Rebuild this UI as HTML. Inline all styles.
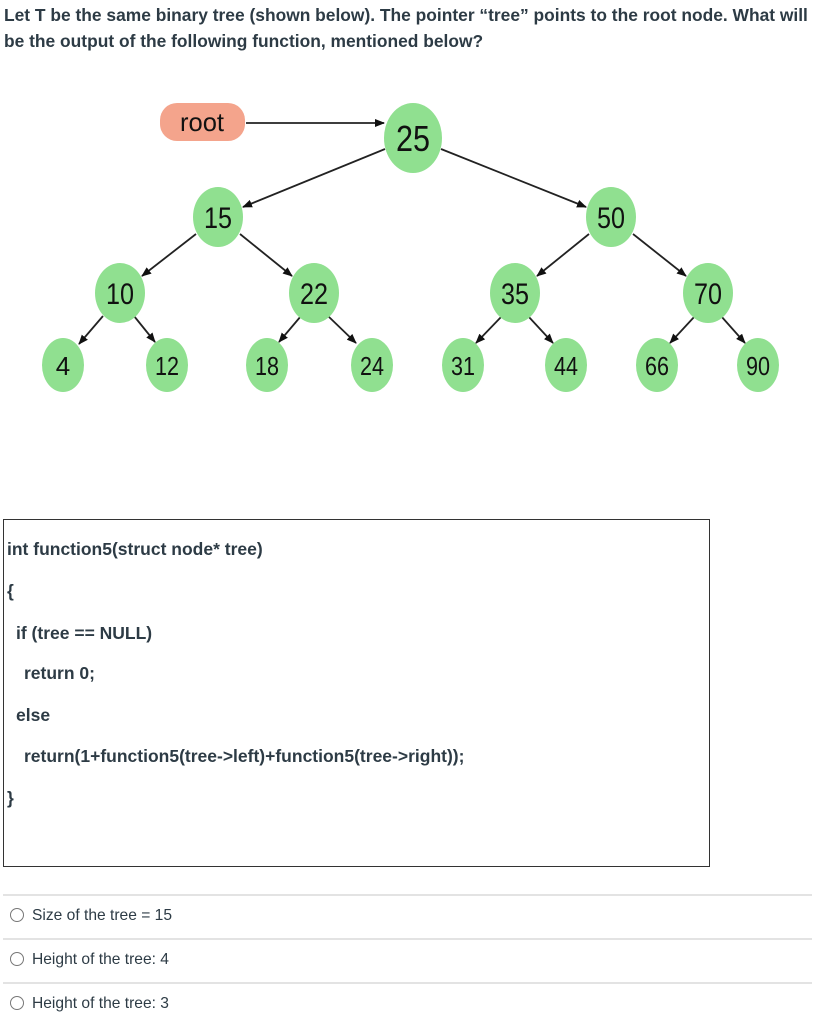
<!DOCTYPE html>
<html><head><meta charset="utf-8"><style>
body{margin:0;width:815px;height:1024px;background:#fff;position:relative;font-family:"Liberation Sans",sans-serif;color:#2d3b45;overflow:hidden}
.t{position:absolute;left:4px;font-weight:bold;font-size:17.4px;color:#2d3b45;white-space:nowrap}
.box{position:absolute;left:3px;top:519px;width:705px;height:346px;border:1px solid #333}
.c{position:absolute;font-weight:bold;font-size:17.5px;color:#2d3b45;white-space:nowrap}
.hr{position:absolute;left:3px;width:809px;height:0;border-top:2px solid #e3e3e3}
.o{position:absolute;left:10px;font-size:15.6px;color:#2d3b45}
.o span{display:inline-block;width:12px;height:12px;border:1px solid #777;border-radius:50%;vertical-align:-2px;margin-right:8px}
</style></head><body>
<div class="t" style="top:5px">Let T be the same binary tree (shown below). The pointer “tree” points to the root node. What will</div>
<div class="t" style="top:31px">be the output of the following function, mentioned below?</div>
<svg style="position:absolute;left:0;top:0" width="815" height="420">
<defs><marker id="a" markerWidth="10" markerHeight="8" refX="9" refY="4" orient="auto" markerUnits="userSpaceOnUse"><path d="M0,0 L10,4 L0,8 z" fill="#111"/></marker></defs>
<g stroke="#222" stroke-width="1.8" marker-end="url(#a)">
<line x1="246" y1="123" x2="384" y2="123"/>
<line x1="385" y1="149" x2="243" y2="207"/>
<line x1="441" y1="149" x2="586" y2="207"/>
<line x1="196" y1="234" x2="142" y2="276"/>
<line x1="240" y1="234" x2="292" y2="276"/>
<line x1="589" y1="234" x2="537" y2="276"/>
<line x1="633" y1="234" x2="686" y2="276"/>
<line x1="103" y1="316" x2="79" y2="344"/>
<line x1="134" y1="316" x2="155" y2="342"/>
<line x1="301" y1="316" x2="279" y2="342"/>
<line x1="328" y1="316" x2="356" y2="343"/>
<line x1="502" y1="316" x2="476" y2="343"/>
<line x1="528" y1="316" x2="553" y2="343"/>
<line x1="695" y1="316" x2="670" y2="343"/>
<line x1="721" y1="316" x2="745" y2="343"/>
</g>
<rect x="160" y="103" width="85" height="38" rx="17" fill="#f4a48c"/>
<g fill="#90e090">
<ellipse cx="413" cy="138" rx="29" ry="35"/>
<ellipse cx="218" cy="217" rx="25" ry="30"/>
<ellipse cx="611" cy="217" rx="25" ry="30"/>
<ellipse cx="120" cy="293" rx="25" ry="30"/>
<ellipse cx="314" cy="293" rx="25" ry="30"/>
<ellipse cx="515" cy="293" rx="25" ry="30"/>
<ellipse cx="708" cy="293" rx="25" ry="30"/>
<ellipse cx="63" cy="365" rx="21" ry="27"/>
<ellipse cx="167" cy="365" rx="21" ry="27"/>
<ellipse cx="267" cy="365" rx="21" ry="27"/>
<ellipse cx="372" cy="365" rx="21" ry="27"/>
<ellipse cx="463" cy="365" rx="21" ry="27"/>
<ellipse cx="566" cy="365" rx="21" ry="27"/>
<ellipse cx="657" cy="365" rx="21" ry="27"/>
<ellipse cx="758" cy="365" rx="21" ry="27"/>
</g>
<g font-family="Liberation Sans,sans-serif" fill="#111" text-anchor="middle">
<text x="202" y="131" font-size="26" textLength="44" lengthAdjust="spacingAndGlyphs">root</text>
<text x="413" y="151" font-size="36" textLength="34" lengthAdjust="spacingAndGlyphs">25</text>
<g font-size="30">
<text x="218" y="228" textLength="28" lengthAdjust="spacingAndGlyphs">15</text>
<text x="611" y="228" textLength="28" lengthAdjust="spacingAndGlyphs">50</text>
<text x="120" y="304" textLength="28" lengthAdjust="spacingAndGlyphs">10</text>
<text x="314" y="304" textLength="28" lengthAdjust="spacingAndGlyphs">22</text>
<text x="515" y="304" textLength="28" lengthAdjust="spacingAndGlyphs">35</text>
<text x="708" y="304" textLength="28" lengthAdjust="spacingAndGlyphs">70</text>
</g>
<g font-size="26">
<text x="63" y="375">4</text>
<text x="167" y="375" textLength="24" lengthAdjust="spacingAndGlyphs">12</text>
<text x="267" y="375" textLength="24" lengthAdjust="spacingAndGlyphs">18</text>
<text x="372" y="375" textLength="24" lengthAdjust="spacingAndGlyphs">24</text>
<text x="463" y="375" textLength="24" lengthAdjust="spacingAndGlyphs">31</text>
<text x="566" y="375" textLength="24" lengthAdjust="spacingAndGlyphs">44</text>
<text x="657" y="375" textLength="24" lengthAdjust="spacingAndGlyphs">66</text>
<text x="758" y="375" textLength="24" lengthAdjust="spacingAndGlyphs">90</text>
</g>
</g>
</svg>
<div class="box"></div>
<div class="c" style="left:7px;top:539px">int function5(struct node* tree)</div>
<div class="c" style="left:7px;top:581px">{</div>
<div class="c" style="left:16px;top:623px">if (tree == NULL)</div>
<div class="c" style="left:24px;top:663px">return 0;</div>
<div class="c" style="left:16px;top:705px">else</div>
<div class="c" style="left:24px;top:746px">return(1+function5(tree-&gt;left)+function5(tree-&gt;right));</div>
<div class="c" style="left:7px;top:788px">}</div>
<div class="hr" style="top:894px"></div>
<div class="hr" style="top:938px"></div>
<div class="hr" style="top:982px"></div>
<div class="o" style="top:907px"><span></span>Size of the tree = 15</div>
<div class="o" style="top:951px"><span></span>Height of the tree: 4</div>
<div class="o" style="top:995px"><span></span>Height of the tree: 3</div>
</body></html>
